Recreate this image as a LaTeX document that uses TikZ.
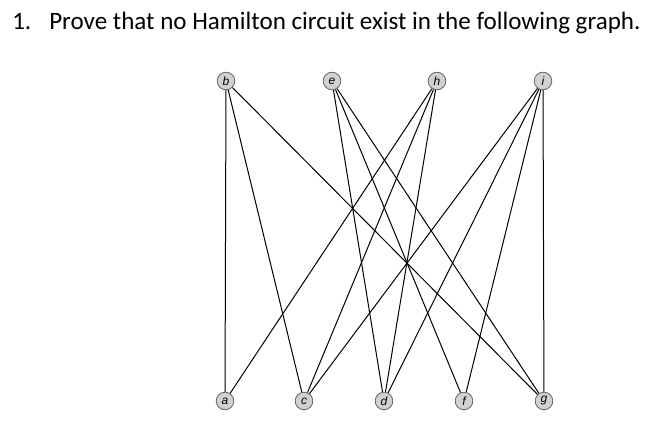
\documentclass[tikz,border=0pt]{standalone}
\usepackage{fontspec}
\setmainfont{Carlito}
\setsansfont{Liberation Sans}
\begin{document}
\begin{tikzpicture}[x=0.75pt,y=-0.75pt,
  vtx/.style={circle,draw=black!60,fill=black!18,line width=0.6pt,minimum size=13.2pt,inner sep=0pt,font=\sffamily\itshape\fontsize{9}{10}\selectfont},
  edge/.style={line width=0.75pt,black},
  title/.style={anchor=base west,inner sep=0pt,font=\fontsize{18.8}{22}\selectfont}]
\useasboundingbox (0,0) rectangle (654,432);
\node[title] (num) at (12,29) {1.};
\node[title] (ttl) at (49,29) {Prove that no Hamilton circuit exist in the following graph.};
\node[vtx] (b) at (226,81) {b};
\node[vtx] (e) at (332,81) {e};
\node[vtx] (h) at (437,81) {h};
\node[vtx] (i) at (543,81) {i};
\node[vtx] (a) at (225,401) {a};
\node[vtx] (c) at (304,401) {c};
\node[vtx] (d) at (384,401) {d};
\node[vtx] (f) at (464,401) {f};
\node[vtx] (g) at (544,401) {g};
\draw[edge] (b) -- (a);
\draw[edge] (b) -- (c);
\draw[edge] (b) -- (g);
\draw[edge] (e) -- (d);
\draw[edge] (e) -- (f);
\draw[edge] (e) -- (g);
\draw[edge] (h) -- (a);
\draw[edge] (h) -- (c);
\draw[edge] (h) -- (d);
\draw[edge] (i) -- (c);
\draw[edge] (i) -- (d);
\draw[edge] (i) -- (f);
\draw[edge] (i) -- (g);
\end{tikzpicture}
\end{document}
